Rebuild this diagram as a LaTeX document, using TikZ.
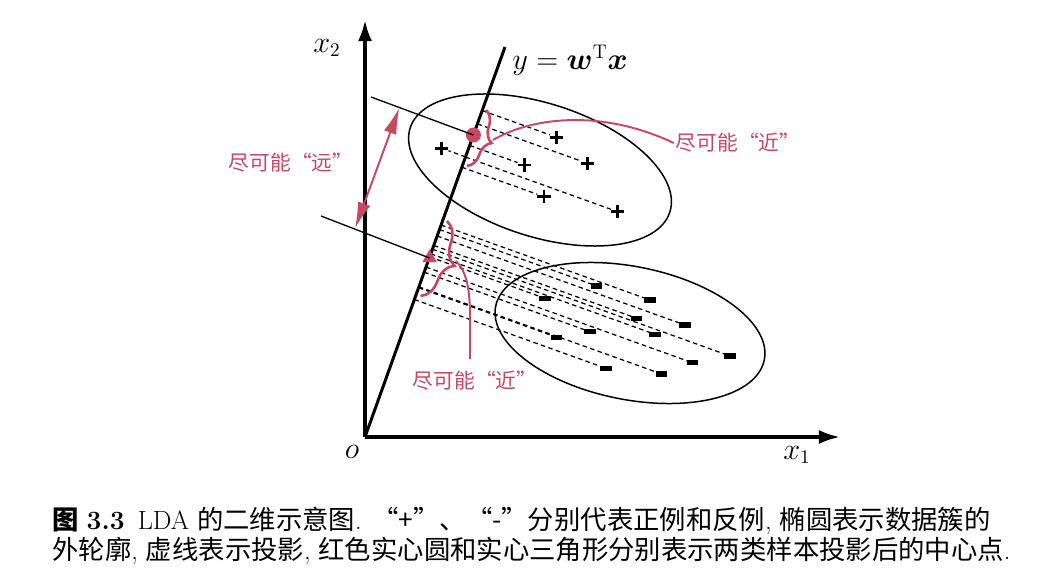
\documentclass[tikz,border=0pt]{standalone}
\usepackage{fontspec}
\usepackage{amsmath,bm}
\newfontfamily\cjk{Noto Sans CJK SC}
\usetikzlibrary{calc,arrows.meta,decorations.pathreplacing,shapes.geometric}
\definecolor{lred}{RGB}{198,72,98}
\begin{document}
\begin{tikzpicture}[x=0.02cm,y=-0.02cm,
  axis/.style={line width=1.9pt,-{Latex[length=12pt,width=8pt]}},
  projline/.style={line width=1.7pt},
  thinline/.style={line width=0.75pt},
  ell/.style={line width=0.85pt},
  proj/.style={line width=0.7pt,dash pattern=on 2.6pt off 1.9pt},
  plusmark/.style={rectangle,minimum size=0.27cm,inner sep=0,outer sep=0},
  plusstroke/.style={line width=1.5pt},
  minusmark/.style={fill=black,minimum width=0.21cm,minimum height=0.09cm,inner sep=0},
  reddot/.style={circle,fill=lred,minimum size=0.3cm,inner sep=0},
  redtri/.style={regular polygon,regular polygon sides=3,fill=lred,minimum size=0.34cm,inner sep=0},
  redbrace/.style={draw=lred,line width=1.5pt,decorate},
  redcurve/.style={draw=lred,line width=1.1pt},
  redarrow/.style={draw=lred,line width=1.1pt,{Latex[length=15pt,width=7.5pt]}-{Latex[length=15pt,width=7.5pt]}},
  redlabel/.style={text=lred,font=\cjk\fontsize{11.8}{13}\selectfont,inner sep=1pt},
  mathlabel/.style={font=\fontsize{16}{19}\selectfont,inner sep=0},
  caption/.style={font=\fontsize{15}{18}\selectfont,anchor=west,inner sep=0}
]
\useasboundingbox (0,0) rectangle (1044,574);

% key coordinates
\coordinate (O) at (365,437);
\coordinate (T) at (505,47);
\coordinate (X1) at (840,437);
\coordinate (X2) at (365,20);

% ellipses
\draw[ell, rotate around={-18:(540,170)}] (540,170) ellipse [x radius=2.73cm, y radius=1.33cm];
\draw[ell, rotate around={-11.3:(630,333)}] (630,333) ellipse [x radius=2.74cm, y radius=1.33cm];

% positive samples
\foreach \i/\p in {1/{(556.7,137.3)},2/{(441.7,148.3)},3/{(524.3,165)},4/{(587.3,163.3)},5/{(544,196.7)},6/{(617.7,211.7)}}
  \node[plusmark] (p\i) at \p {};
\foreach \i in {1,...,6}{
  \draw[proj] ($(O)!(p\i)!(T)$) -- (p\i);
  \draw[plusstroke] (p\i.north) -- (p\i.south) (p\i.west) -- (p\i.east);
}

% negative samples
\foreach \i/\p in {1/{(596.7,286)},2/{(545,298.3)},3/{(650,300)},4/{(636.7,318.3)},5/{(590,331.7)},6/{(655,334.3)},7/{(685,325)},8/{(556.7,337.3)},9/{(730,356)},10/{(692.3,362.7)},11/{(606,368.3)},12/{(661.7,374)}}
  \node[minusmark] (n\i) at \p {};
\foreach \i in {1,...,12}
  \draw[proj] ($(O)!(n\i)!(T)$) -- (n\i.center);
\foreach \i in {1,...,12}
  \fill (n\i.south west) rectangle (n\i.north east);

% axes and projection line
\draw[axis] (O) -- (X1);
\draw[axis] (O) -- (X2);
\draw[projline] (O) -- (T);

\node[mathlabel] (lx1) at (797,455) {$x_1$};
\node[mathlabel] (lx2) at (327,48) {$x_2$};
\node[mathlabel] (lo) at (352,452) {$o$};
\node[mathlabel,anchor=west] (ly) at (512,60) {$y=\boldsymbol{w}^{\mathrm{T}}\boldsymbol{x}$};

% centres of projections
\node[reddot] (c1) at (473.4,135) {};
\node[redtri] (c2) at (429.6,258) {};

% thin lines through the centres
\coordinate (u1) at (371,97);
\coordinate (l1) at (321,216);
\draw[thinline] (u1) -- (c1.center);
\draw[thinline] (l1) -- (c2.center);

% far-apart double arrow
\coordinate (a1) at (399.3,107.8);
\coordinate (a2) at (355,228.5);
\draw[redarrow] (a2) -- (a1);
\node[redlabel] (lab2) at (291,163) {尽可能“远”};

% braces
\coordinate (b1s) at (486,110);
\coordinate (b1e) at (467,166);
\draw[redbrace, decoration={brace,amplitude=0.32cm}] (b1s) -- (b1e);
\coordinate (bt1) at (493,140);
\coordinate (b2s) at (447,221);
\coordinate (b2e) at (420.5,296);
\draw[redbrace, decoration={brace,amplitude=0.44cm}] (b2s) -- (b2e);
\coordinate (bt2) at (456,261);

% near labels and curves
\node[redlabel] (lab1) at (738,143) {尽可能“近”};
\draw[redcurve] (bt1) .. controls (530,118) and (600,108) .. (lab1.west);
\node[redlabel] (lab3) at (475,381) {尽可能“近”};
\draw[redcurve] ([xshift=-0.1cm,yshift=0.2cm]lab3.north) -- (470,318) .. controls (470,290) and (467,272) .. (bt2);

% caption
\node[caption] (cap1) at (52,521) {{\cjk\bfseries 图} \textbf{3.3}\enspace LDA {\cjk 的二维示意图}. {\cjk “+”、“-”分别代表正例和反例}, {\cjk 椭圆表示数据簇的}};
\node[caption] (cap2) at (52,551) {{\cjk 外轮廓}, {\cjk 虚线表示投影}, {\cjk 红色实心圆和实心三角形分别表示两类样本投影后的中心点}.};
\end{tikzpicture}
\end{document}
